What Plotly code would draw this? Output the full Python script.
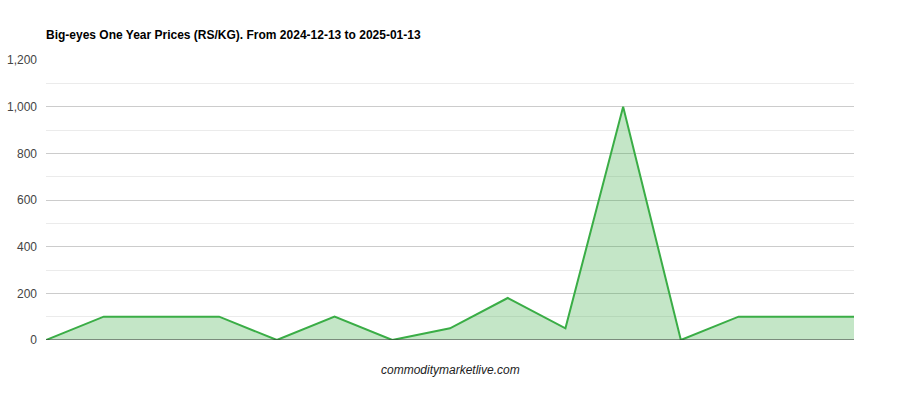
import plotly.graph_objects as go

points = list(range(15))
prices = [0, 100, 100, 100, 0, 100, 0, 50, 180, 50, 1000, 0, 100, 100, 100]
y_ticks = [0, 200, 400, 600, 800, 1000, 1200]
y_tick_labels = ["0", "200", "400", "600", "800", "1,000", "1,200"]

fig = go.Figure()
fig.add_trace(go.Scatter(
    x=points, y=prices, mode="lines",
    line=dict(color="#3aad46", width=2),
    fill="tozeroy", fillcolor="rgba(58,173,70,0.3)",
    hoverinfo="skip",
))

fig.update_layout(
    width=900, height=400,
    margin=dict(l=46, r=46, t=60, b=60),
    paper_bgcolor="white", plot_bgcolor="white",
    showlegend=False,
    font=dict(family="Arial, Liberation Sans, sans-serif", size=12, color="#444"),
    title=dict(text="<b>Big-eyes One Year Prices (RS/KG). From 2024-12-13 to 2025-01-13</b>",
               x=46/900, xanchor="left", y=1-35/400, yanchor="middle",
               font=dict(size=12, color="#000")),
    xaxis=dict(range=[0, 14], showgrid=False, showticklabels=False, zeroline=False,
               showline=False, fixedrange=True, automargin=False),
    yaxis=dict(range=[0, 1200], tickvals=y_ticks, ticktext=y_tick_labels,
               gridcolor="#cccccc", gridwidth=1, zeroline=False, showline=False,
               ticks="", ticklabelstandoff=8, automargin=False,
               minor=dict(tickvals=[100, 300, 500, 700, 900, 1100], showgrid=True,
                          gridcolor="#ebebeb", gridwidth=1)),
    annotations=[dict(text="<i>commoditymarketlive.com</i>", x=0.5, y=-30/280,
                      xref="paper", yref="paper", showarrow=False,
                      font=dict(size=12, color="#222"), yanchor="middle")],
    shapes=[dict(type="line", xref="paper", yref="y", x0=0, x1=1, y0=0, y1=0,
                 line=dict(color="#333", width=1))],
)

fig.write_html("out.html")
